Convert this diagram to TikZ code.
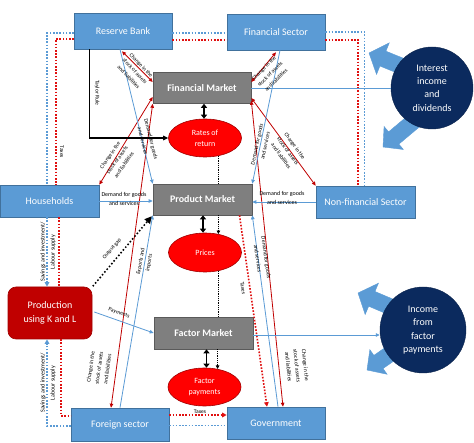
\documentclass[tikz,border=0pt]{standalone}
\usepackage{fontspec}
\setmainfont{Carlito}
\usetikzlibrary{arrows.meta,shapes.geometric,calc}
\definecolor{bxblue}{HTML}{5B9BD5}
\definecolor{bxborder}{HTML}{41719C}
\definecolor{bxgray}{HTML}{7F7F7F}
\definecolor{gyborder}{HTML}{5A5A5A}
\definecolor{elred}{HTML}{FF0000}
\definecolor{elborder}{HTML}{A00000}
\definecolor{prodred}{HTML}{C00000}
\definecolor{navy}{HTML}{0B2A5E}
\definecolor{lnred}{HTML}{C00000}
\definecolor{dotred}{HTML}{E01010}
\definecolor{lnblue}{HTML}{5B9BD5}
\begin{document}
\begin{tikzpicture}[x=1pt,y=-1pt,
  bluebox/.style={draw=bxborder, fill=bxblue, line width=0.6pt, minimum width=98pt, minimum height=36pt, inner sep=0pt, text=white, font=\fontsize{10}{12}\selectfont},
  graybox/.style={draw=gyborder, fill=bxgray, line width=0.6pt, minimum width=98pt, minimum height=31pt, inner sep=0pt, text=white, font=\bfseries\fontsize{10}{12}\selectfont},
  redell/.style={ellipse, draw=elborder, fill=elred, line width=0.6pt, minimum width=73pt, minimum height=38pt, inner sep=0pt, text=white, font=\fontsize{8}{11}\selectfont, align=center},
  prodbox/.style={draw=elborder, fill=prodred, rounded corners=8pt, line width=0.6pt, minimum width=84pt, minimum height=52pt, inner sep=0pt, text=white, font=\fontsize{10}{14}\selectfont, align=center},
  navycirc/.style={circle, draw=navy!80!black, fill=navy, text=white, inner sep=0pt, font=\fontsize{10}{13.3}\selectfont, align=center},
  lbl/.style={font=\fontsize{5.6}{8.5}\selectfont, inner sep=0pt, align=center, text=black},
  redarr/.style={draw=lnred, line width=0.8pt, {Triangle[length=4pt,width=3.5pt]}-{Triangle[length=4pt,width=3.5pt]}},
  bluearr/.style={draw=lnblue, line width=0.8pt, -{Triangle[length=4pt,width=3.5pt]}},
  reddot/.style={draw=dotred, line width=1.6pt, dash pattern=on 1.6pt off 1.6pt},
  bluedot/.style={draw=lnblue, line width=1.6pt, dash pattern=on 1.6pt off 1.6pt},
  blkdot/.style={draw=black, line width=0.8pt, dash pattern=on 0.8pt off 1pt},
  dblarr/.style={draw=black, line width=1.8pt, {Triangle[length=4pt,width=6pt]}-{Triangle[length=4pt,width=6pt]}},
  dtip/.style={-{Triangle[length=4.5pt,width=4.5pt]}},
  blockarr/.style={fill=bxblue, draw=bxblue},
]
\fill[white] (0,0) rectangle (474,443);
\useasboundingbox (0,0) rectangle (474,443);

% big block arrows (under circles)
\path[blockarr, shift={(369,53)}, rotate=158] (0,0) -- (-15,-17) -- (-15,-8) -- (-48,-8) -- (-48,8) -- (-15,8) -- (-15,17) -- cycle;
\path[blockarr, shift={(383,147)}, rotate=220] (0,0) -- (-14,-15) -- (-14,-8) -- (-48,-8) -- (-48,8) -- (-14,8) -- (-14,15) -- cycle;
\path[blockarr, shift={(358,293)}, rotate=157] (0,0) -- (-15,-17) -- (-15,-8) -- (-52,-8) -- (-52,8) -- (-15,8) -- (-15,17) -- cycle;
\path[blockarr, shift={(367,370)}, rotate=215] (0,0) -- (-14,-15) -- (-14,-8) -- (-48,-8) -- (-48,8) -- (-14,8) -- (-14,15) -- cycle;

% nodes
\node[bluebox] (rb) at (123,31) {Reserve Bank};
\node[bluebox] (fs) at (276,32) {Financial Sector};
\node[graybox] (fm) at (202,88) {Financial Market};
\node[redell] (ror) at (205,138) {Rates of\\return};
\node[bluebox, minimum width=99pt, minimum height=32pt] (hh) at (49.5,201) {Households};
\node[graybox, minimum width=99pt] (pm) at (202.5,199.5) {Product Market};
\node[bluebox, minimum width=99pt, minimum height=32pt] (nf) at (365.5,202) {Non-financial Sector};
\node[redell, minimum height=39pt] (pr) at (205,252.5) {Prices};
\node[prodbox] (prod) at (50,313) {Production\\using K and L};
\node[graybox, minimum width=99pt, minimum height=32pt] (fmk) at (203.5,333) {Factor Market};
\node[redell] (fp) at (204.5,387) {Factor\\payments};
\node[bluebox, minimum height=33pt] (fo) at (120,424.5) {Foreign sector};
\node[bluebox, minimum height=32pt] (gov) at (276,423) {Government};
\node[navycirc, minimum size=82pt] (ii) at (432,88) {Interest\\income\\and\\dividends};
\node[navycirc, minimum size=86pt] (ifp) at (423,330) {Income\\from\\factor\\payments};

% dotted loops
\draw[bluedot] ([yshift=-2pt]rb.west) -| ([xshift=-2.5pt]hh.north);
\draw[reddot] ([yshift=-8pt]rb.west) -| ([xshift=6.5pt]hh.north);
\draw[bluedot] ([yshift=-2pt]rb.east) -- ([yshift=-2pt]rb.east -| fs.west);
\draw[reddot] ([yshift=-9pt]rb.east) -- ([yshift=-9pt]rb.east -| fs.west);
\draw[bluedot] (fs.east) -| ([xshift=-1pt]nf.north);
\draw[reddot] ([yshift=-8pt]fs.east) -| ([xshift=-7.5pt]nf.north);
\draw[bluedot, dtip] ([xshift=-2.5pt]hh.south) -- ([xshift=-2.5pt]hh.south |- prod.north);
\draw[reddot] ([xshift=9.5pt]hh.south) -- ([xshift=9.5pt]hh.south |- prod.north);
\draw[bluedot, dtip] ([yshift=-1.5pt]fo.west) -| ([xshift=-3pt]prod.south);
\draw[reddot] ([xshift=11pt]prod.south) |- ([yshift=8.5pt]fo.west);
\draw[reddot, dtip] ([yshift=9.5pt]fo.east) -- ([yshift=9.5pt]fo.east -| gov.west);
\draw[bluedot] ([yshift=-1pt]fo.east) -- ([yshift=-1pt]fo.east -| gov.west);
\draw[reddot, dtip] ([xshift=37pt]pm.south) -- ([xshift=-9pt]gov.north);

% red double arrows
\draw[redarr] ([xshift=-1pt,yshift=-2pt]rb.south) -- ([yshift=6pt]fm.west);
\draw[redarr] ([yshift=-2pt]fs.south) -- ([yshift=6pt]fm.east);
\draw[redarr] (hh.north east) -- ([yshift=-9pt]fm.west);
\draw[redarr] (nf.north west) -- ([yshift=-10pt]fm.east);
\draw[redarr] ([xshift=-9pt]fo.north) -- (fm.south west);
\draw[redarr] ([xshift=7pt]gov.north) -- ([yshift=3pt]fm.south east);

% blue arrows
\draw[bluearr] ([xshift=-3pt]rb.south) -- (pm.north west);
\draw[bluearr] ([xshift=4pt]fs.south) -- (pm.north east);
\draw[bluearr] (hh.east) -- (hh.east -| pm.west);
\draw[bluearr] (nf.west) -- (nf.west -| pm.east);
\draw[bluearr] (fo.north) -- (pm.south west);
\draw[bluearr] ([xshift=2pt]gov.north) -- (pm.south east);
\draw[bluearr] ([xshift=2pt,yshift=1pt]prod.east) -- (fmk.west);
\draw[bluearr] ([yshift=-2pt]fmk.east) -- ([yshift=-2pt]fmk.east -| ifp.west);
\draw[draw=lnblue, line width=0.8pt] (ii.west) -- (fm.east);

% black connectors
\draw[black, line width=1.5pt, -{Triangle[length=5pt,width=4.5pt]}] ([xshift=16pt]rb.south west) |- (ror.west);
\draw[black, line width=2.2pt, line cap=round, dash pattern=on 0pt off 3.6pt, -{Triangle[length=7pt,width=7pt]}] ([xshift=1pt,yshift=1pt]prod.north east) -- ([xshift=-1pt,yshift=-1pt]pm.south west);
\draw[dblarr] ([xshift=-1pt]ror.north) -- ([xshift=-1pt]ror.north |- fm.south);
\draw[dblarr] ([xshift=-2pt]pr.north) -- ([xshift=-2pt]pr.north |- pm.south);
\draw[dblarr] ([xshift=2pt]fp.north) -- ([xshift=2pt]fp.north |- fmk.south);
\draw[blkdot] (ror.-54) -- (ror.-54 |- pm.north);
\draw[blkdot, -{Triangle[length=3.5pt,width=3.5pt]}] (pr.54 |- pm.south) -- (pr.54);
\draw[blkdot] (pr.-54) -- (pr.-54 |- fmk.north);
\draw[blkdot, -{Triangle[length=3.5pt,width=3.5pt]}] (fp.54 |- fmk.south) -- (fp.54);

% labels
\node[lbl, rotate=-47] (l1) at (135,71) {Change in the\\stock of assets\\and liabilities};
\node[lbl, rotate=45] (l2) at (270,74) {Change in the\\stock of assets\\and liabilities};
\node[lbl, rotate=55] (l3) at (117,160) {Change in the\\stock of assets\\and liabilities};
\node[lbl, rotate=-54] (l4) at (288,151) {Change in the\\stock of assets\\and liabilities};
\node[lbl, rotate=-76] (l5) at (147,140) {Demand for goods\\and services};
\node[lbl, rotate=78] (l6) at (261,145) {Demand for goods\\and services};
\node[lbl, font=\fontsize{6}{9}\selectfont] (l7) at (124,199) {Demand for goods\\and services};
\node[lbl, font=\fontsize{6}{9}\selectfont] (l8) at (282,198) {Demand for goods\\and services};
\node[lbl, rotate=80] (l9) at (145,262) {Exports and\\imports};
\node[lbl, rotate=-82] (l10) at (262,258) {Demand for goods\\and services};
\node[lbl, rotate=82] (l11) at (99,368) {Change in the\\stock of assets\\and liabilities};
\node[lbl, rotate=-84] (l12) at (297,366) {Change in the\\stock of assets\\and liabilities};
\node[lbl, rotate=-90] (l13) at (97,93) {Taylor Rule};
\node[lbl, rotate=-90] (l14) at (62,152) {Taxes};
\node[lbl, rotate=90, font=\fontsize{6}{10}\selectfont] (l15) at (48,252) {Savings and investment/\\Labour supply};
\node[lbl, rotate=90, font=\fontsize{6}{10}\selectfont] (l16) at (48,383) {Savings and investment/\\Labour supply};
\node[lbl, rotate=50] (l17) at (112,249) {Output gap};
\node[lbl, rotate=-19] (l18) at (119,313) {Payments};
\node[lbl, rotate=-82] (l19) at (243,288) {Taxes};
\node[lbl] (l20) at (200,412) {Taxes};
\end{tikzpicture}
\end{document}
